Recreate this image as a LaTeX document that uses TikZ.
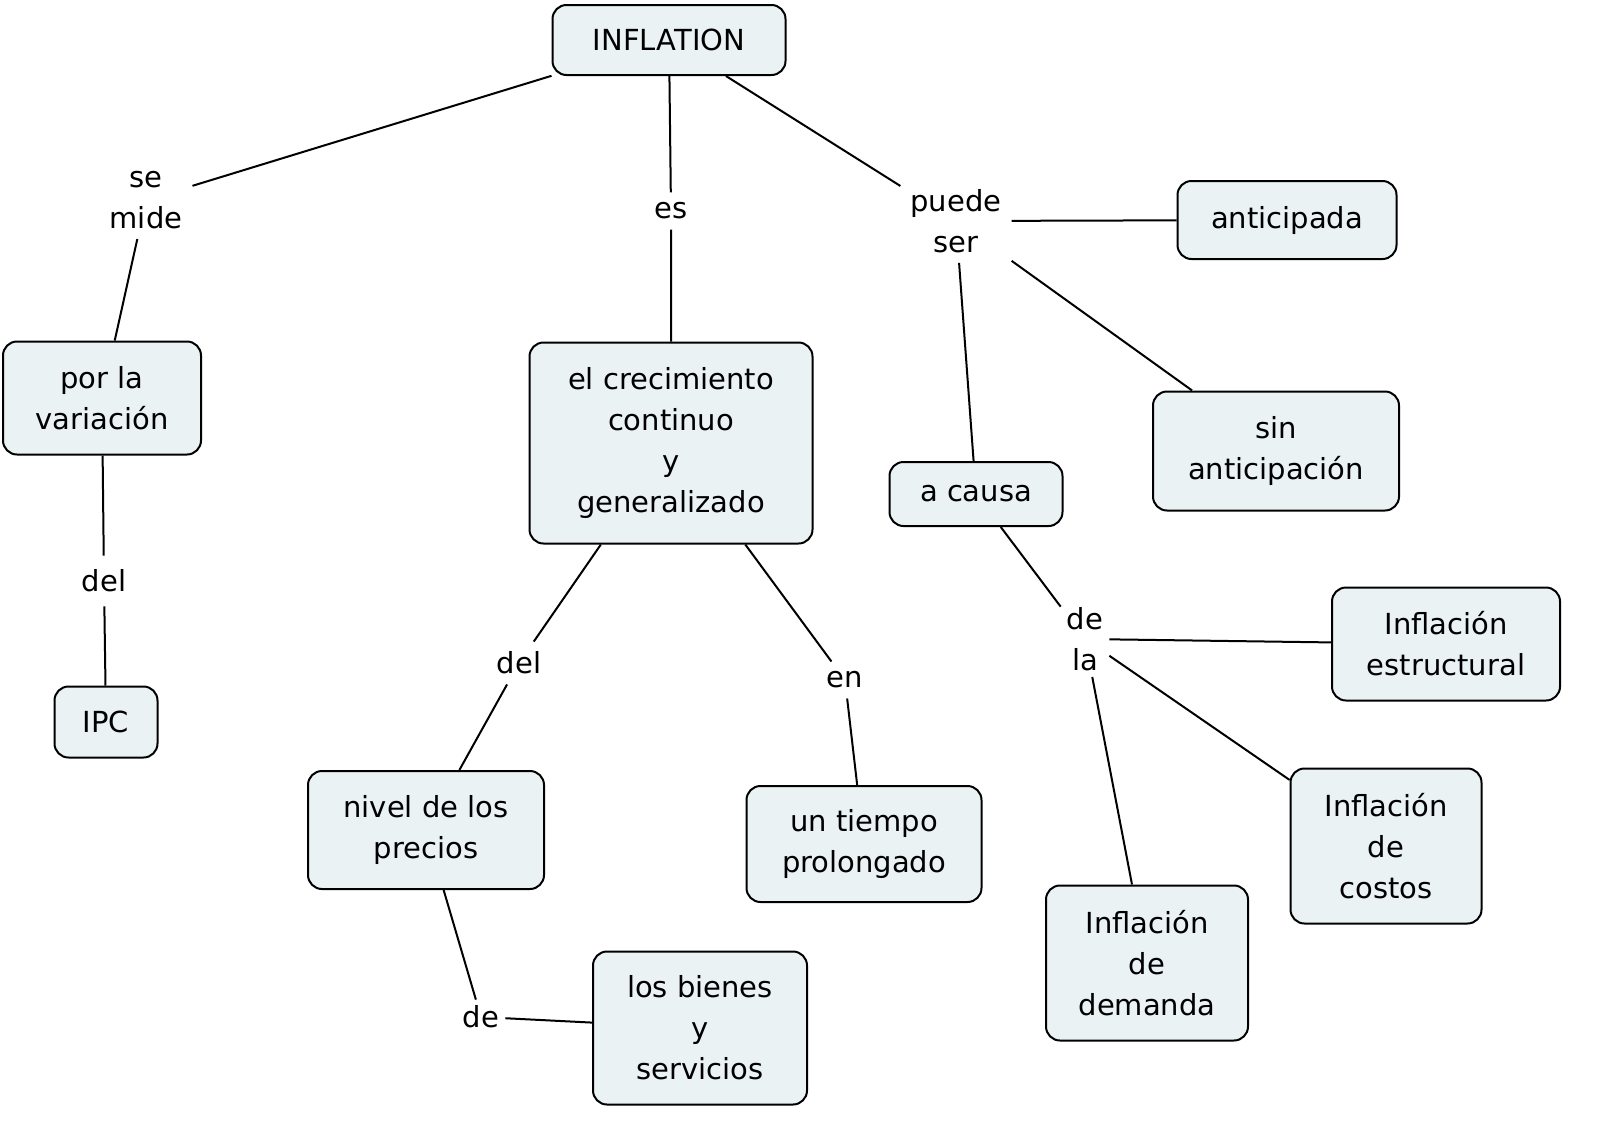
\documentclass[tikz,border=0pt]{standalone}
\usepackage{fontspec}
\setmainfont{DejaVu Sans}
\begin{document}
\begin{tikzpicture}[x=1pt,y=-1pt,
  box/.style={draw=black,line width=2pt,fill={rgb,255:red,234;green,242;blue,244},rounded corners=14pt,align=center,font=\fontsize{29}{41}\selectfont,inner sep=0pt},
  lab/.style={align=center,font=\fontsize{29}{41}\selectfont,inner sep=10pt},
  con/.style={line width=2pt}]
\useasboundingbox (0,0) rectangle (1600,1133);
\node[box,minimum width=233,minimum height=70] (inf) at (669,40) {INFLATION};
\node[box,minimum width=198,minimum height=113] (var) at (102,398) {por la\\variación};
\node[box,minimum width=103,minimum height=71] (ipc) at (106,722) {IPC};
\node[box,minimum width=283,minimum height=201] (cre) at (671,443) {el crecimiento\\continuo\\y\\generalizado};
\node[box,minimum width=236,minimum height=118] (niv) at (426,830) {nivel de los\\precios};
\node[box,minimum width=214,minimum height=153] (bie) at (700,1028) {los bienes\\y\\servicios};
\node[box,minimum width=235,minimum height=116] (tie) at (864,844) {un tiempo\\prolongado};
\node[box,minimum width=219,minimum height=78] (ant) at (1287,220) {anticipada};
\node[box,minimum width=246,minimum height=119] (sin) at (1276,451) {sin\\anticipación};
\node[box,minimum width=173,minimum height=64] (cau) at (976,494) {a causa};
\node[box,minimum width=228,minimum height=113] (est) at (1446,644) {Inflación\\estructural};
\node[box,minimum width=191,minimum height=155] (cos) at (1386,846) {Inflación\\de\\costos};
\node[box,minimum width=202,minimum height=155] (dem) at (1147,963) {Inflación\\de\\demanda};
\node[lab] (l1) at (146,200) {se\\mide};
\node[lab] (l2) at (671,211) {es};
\node[lab] (l3) at (956,221) {puede\\ser};
\node[lab,inner sep=14pt] (l4) at (104,581) {del};
\node[lab] (l5) at (519,663) {del};
\node[lab] (l6) at (845,680) {en};
\node[lab,inner sep=6pt] (l7) at (481,1017) {de};
\node[lab,inner sep=6pt] (l8) at (1085,639) {de\\la};
\draw[con] (inf) -- (l1) (l1) -- (var) (var) -- (l4) (l4) -- (ipc);
\draw[con] (inf) -- (l2) (l2) -- (cre) (cre) -- (l5) (l5) -- (niv) (niv) -- (l7) (l7) -- (bie);
\draw[con] (cre) -- (l6) (l6) -- (tie);
\draw[con] (inf) -- (l3) (l3) -- (ant) (l3) -- (sin) (l3) -- (cau) (cau) -- (l8);
\draw[con] (l8) -- (est) (l8) -- (cos) (l8) -- (dem);
\end{tikzpicture}
\end{document}
